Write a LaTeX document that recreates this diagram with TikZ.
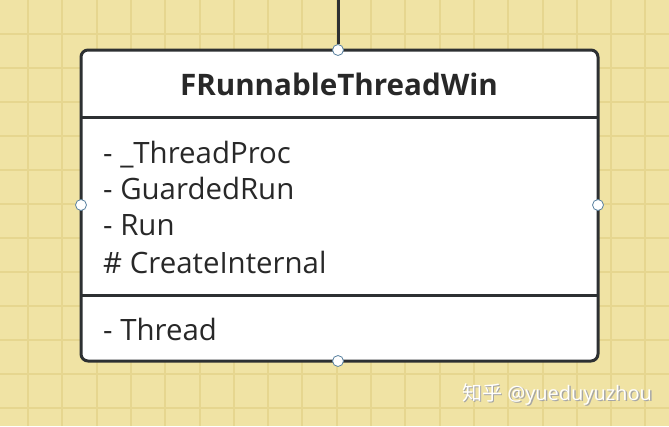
\documentclass[tikz,border=0pt]{standalone}
\usepackage{fontspec}
\setmainfont{Open Sans}
\newfontfamily\cjkfont{Noto Sans CJK SC}
\definecolor{bgyellow}{RGB}{240,227,164}
\definecolor{gridline}{RGB}{230,214,143}
\definecolor{boxline}{RGB}{45,48,50}
\definecolor{txt}{RGB}{40,40,40}
\definecolor{handle}{RGB}{90,130,160}
\newcommand{\wmtext}{{\cjkfont 知乎} @yueduyuzhou}
\begin{document}
\begin{tikzpicture}[x=1pt,y=-1pt,
  handlept/.style={circle,draw=handle,fill=white,line width=0.8pt,inner sep=0pt,minimum size=11pt},
  member/.style={anchor=base west,inner sep=0pt,text=txt,font=\fontsize{29.4}{32}\selectfont},
  titletext/.style={anchor=base,inner sep=0pt,text=txt,font=\fontsize{29.6}{34}\selectfont\bfseries},
  boxborder/.style={draw=boxline,line width=3pt,rounded corners=7pt,fill=white},
  sepline/.style={draw=boxline,line width=3pt}]
\fill[bgyellow] (0,0) rectangle (669,426);
\useasboundingbox (0,0) rectangle (669,426);
\foreach \i in {0,...,19} {\draw[gridline,line width=2pt] (28+34.3*\i,0) -- (28+34.3*\i,426);}
\foreach \j in {0,...,12} {\draw[gridline,line width=2pt] (0,34+34*\j) -- (669,34+34*\j);}
% class box
\coordinate (tl) at (81,50);
\coordinate (br) at (598,361);
\path[boxborder] (tl) rectangle (br);
\coordinate (s1l) at (81,117); \coordinate (s1r) at (598,117);
\coordinate (s2l) at (81,295); \coordinate (s2r) at (598,295);
\draw[sepline] (s1l) -- (s1r);
\draw[sepline] (s2l) -- (s2r);
\coordinate (topend) at (338,0);
\node[handlept] (htop) at (338,50) {};
\node[handlept] (hleft) at (81,205) {};
\node[handlept] (hright) at (598,205) {};
\node[handlept] (hbot) at (338,361) {};
\draw[boxline,line width=3pt] (topend) -- (htop.north);
\node[titletext] (title) at (339,95) {FRunnableThreadWin};
\node[member] (m1) at (103,163) {- \_ThreadProc};
\node[member] (m2) at (103,199) {- GuardedRun};
\node[member] (m3) at (103,235) {- Run};
\node[member] (m4) at (103,273) {\# CreateInternal};
\node[member] (a1) at (103,340) {- Thread};
% watermark
\node[anchor=base west,inner sep=0pt,font=\fontsize{20}{23}\selectfont] (wm) at (462,400)
  {\rlap{\hspace{1.5pt}\raisebox{-1.5pt}{\color{black!35}\wmtext}}\color{white}\wmtext};
\end{tikzpicture}
\end{document}
